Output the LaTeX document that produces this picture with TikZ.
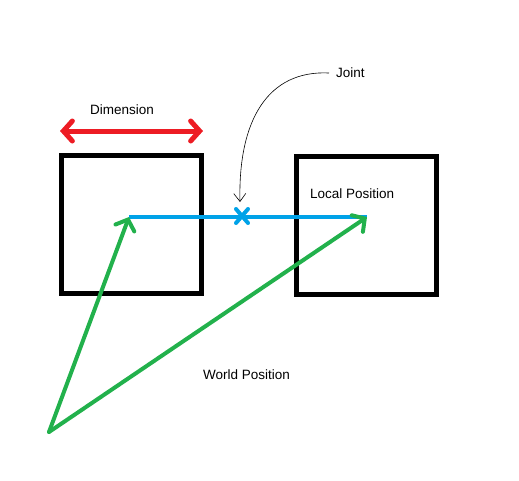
\documentclass[tikz,border=0pt]{standalone}
\usepackage{fontspec}
\setmainfont{Liberation Sans}
\usetikzlibrary{arrows.meta,calc}
\definecolor{boxblack}{RGB}{0,0,0}
\definecolor{dimred}{RGB}{237,28,36}
\definecolor{jointblue}{RGB}{0,162,232}
\definecolor{vecgreen}{RGB}{34,177,76}
\begin{document}
\begin{tikzpicture}[x=1pt,y=-1pt,
  lbl/.style={font=\fontsize{13.5}{15}\selectfont, inner sep=0pt, anchor=west},
  bodybox/.style={draw=boxblack, line width=5pt, minimum width=140pt, minimum height=138pt, inner sep=0pt},
  dimarrow/.style={draw=dimred, line width=5pt, line cap=round, {Straight Barb[length=9pt,width=20pt,line cap=round]}-{Straight Barb[length=9pt,width=20pt,line cap=round]}},
  vecarrow/.style={draw=vecgreen, line width=4pt, line cap=round, -{Straight Barb[length=9pt,width=20pt,line cap=round]}},
  linkline/.style={draw=jointblue, line width=4pt},
  crossline/.style={draw=jointblue, line width=4pt, line cap=round},
  pointer/.style={draw=black, line width=0.6pt, -{Straight Barb[length=8pt,width=12pt]}}
]
\useasboundingbox (0,0) rectangle (519,480);
\node[bodybox] (left) at (131,224) {};
\node[bodybox] (right) at (366.5,225) {};
\coordinate (lc) at (129,217);
\coordinate (rc) at (367,217);
\coordinate (origin) at (49,432);
\coordinate (dl) at (60,131);
\coordinate (dr) at (203,131);
\coordinate (jx) at (242,216);
\coordinate (jtip) at (240,202);
\coordinate (jstart) at (329,73);
\node[lbl] (dimtext) at (90,110) {Dimension};
\node[lbl] (jointtext) at (336,73) {Joint};
\node[lbl] (localtext) at (310,194) {Local Position};
\node[lbl] (worldtext) at (203,375) {World Position};
% link line
\draw[linkline] (lc) -- (rc);
% joint cross
\draw[crossline] ($(jx)+(-6,-7)$) -- ($(jx)+(6,7)$);
\draw[crossline] ($(jx)+(6,-7)$) -- ($(jx)+(-6,7)$);
% dimension
\draw[dimarrow] (dl) -- (dr);
% world vectors
\draw[vecarrow] (origin) -- (lc);
\draw[vecarrow] (origin) -- (rc);
% joint pointer
\draw[pointer] (jstart) .. controls (268,70) and (238,120) .. (jtip);
\end{tikzpicture}
\end{document}
